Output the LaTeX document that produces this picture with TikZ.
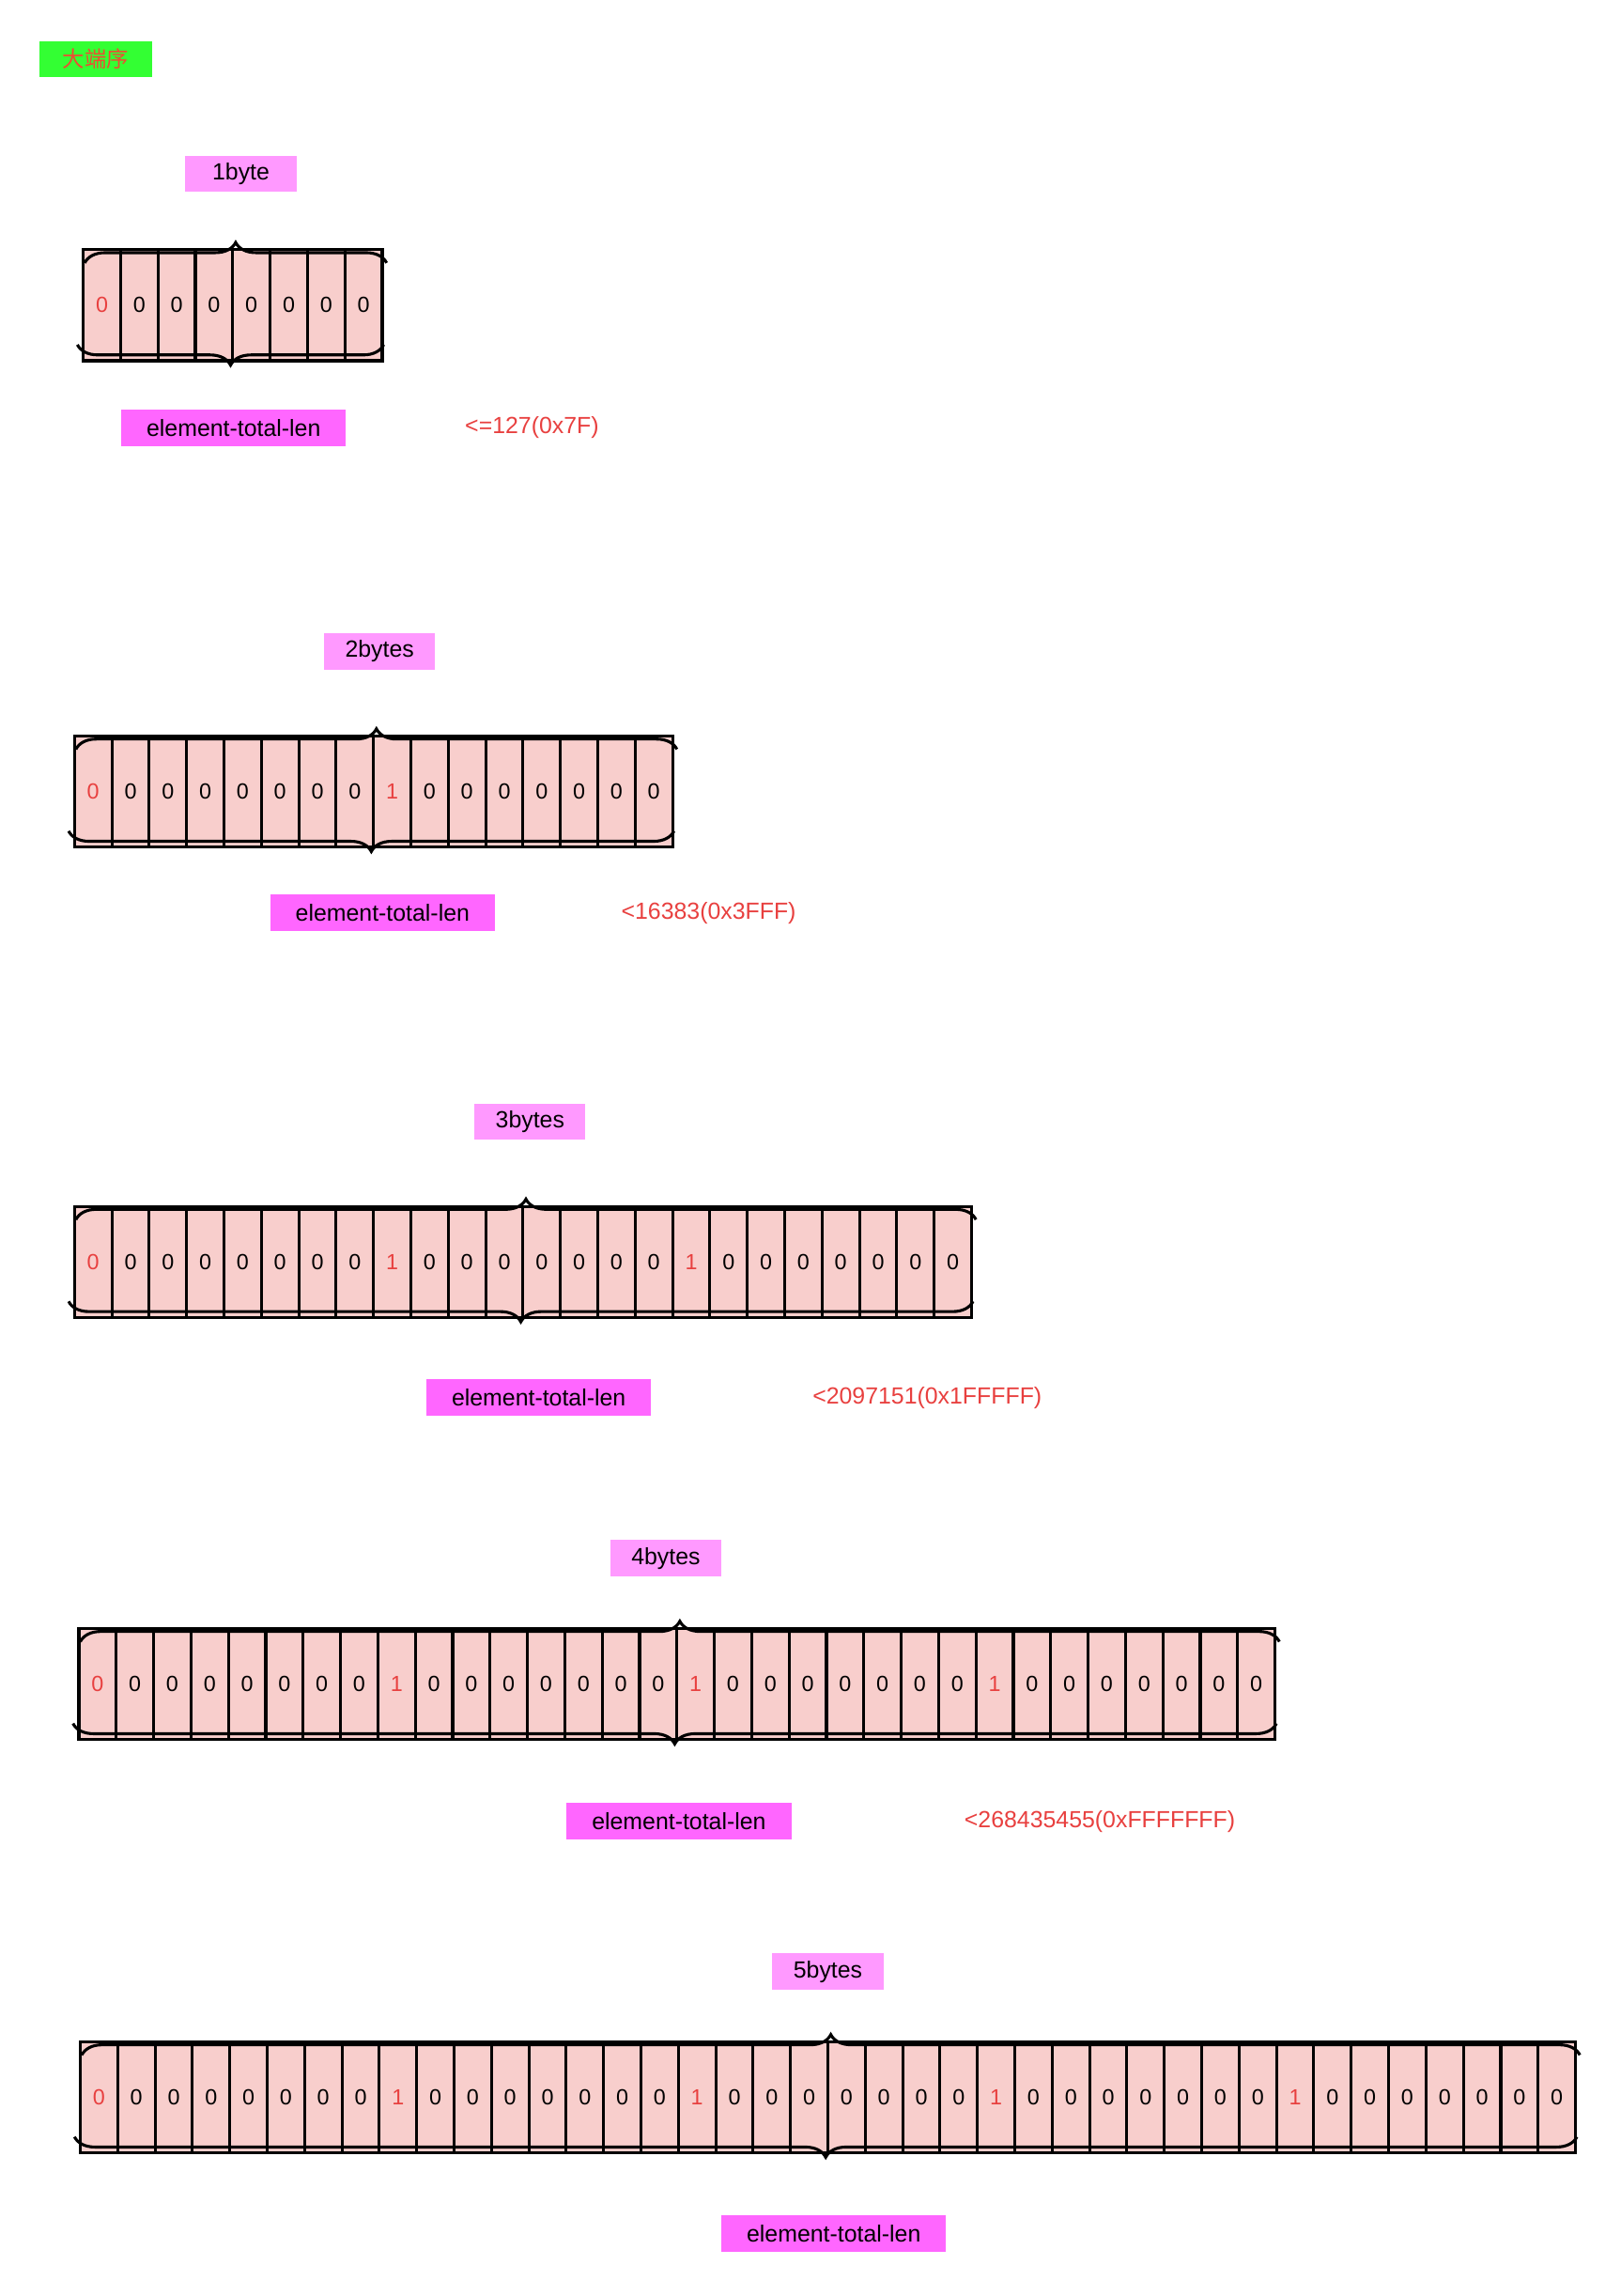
\documentclass[tikz,border=0pt]{standalone}
\usepackage{fontspec}
\setmainfont{Liberation Sans}
\newfontfamily\cjk{Noto Sans CJK SC}
\usetikzlibrary{decorations.pathreplacing}
\definecolor{cellf}{HTML}{F8CECC}
\definecolor{lab}{HTML}{FF99FF}
\definecolor{lab2}{HTML}{FF66FF}
\definecolor{redt}{HTML}{E8403F}
\definecolor{grn}{HTML}{33FF33}
\tikzset{
 cell/.style={draw=black,line width=2pt,fill=cellf,minimum width=25.6pt,minimum height=76pt,inner sep=0pt,anchor=north west,font=\fontsize{15}{15}\selectfont},
 bytelab/.style={fill=lab,minimum width=76pt,minimum height=25pt,inner sep=0pt,font=\fontsize{16}{16}\selectfont},
 lenlab/.style={fill=lab2,minimum width=154pt,minimum height=25pt,inner sep=0pt,font=\fontsize{16}{16}\selectfont},
 rng/.style={text=redt,font=\fontsize{16}{16}\selectfont},
 br/.style={decorate,decoration={brace,amplitude=14pt},line width=2pt},
}
\begin{document}
\begin{tikzpicture}[x=1pt,y=-1pt]
\useasboundingbox (0,0) rectangle (1110,1572);
\node[fill=grn,minimum width=77pt,minimum height=25pt,inner sep=0pt,text=redt!80!orange,font=\cjk\fontsize{15}{15}\selectfont] (title) at (65.5,40.5) {大端序};
% rows: name/left/top/ncells
\foreach \r/\L/\T/\n/\bl/\bx/\tby/\bby/\lx/\ly/\rx/\rt in {
 1/56/170/8/1byte/165/119/258/160/299/315/{<=127(0x7F)},
 2/50/503/16/2bytes/260/446/590/262/632/422/{<16383(0x3FFF)},
 3/50/825/24/3bytes/363/768/922/369/965/553/{<2097151(0x1FFFFF)},
 4/53/1114/32/4bytes/456/1067/1212/465/1251/657/{<268435455(0xFFFFFFF)},
 5/54/1397/40/5bytes/567/1350/1494/571/1529/0/{}}{
  \pgfmathtruncatemacro{\last}{\n-1}
  \foreach \i in {0,...,\last}{
    \pgfmathtruncatemacro{\isone}{(mod(\i,8)==0 && \i>0)?1:0}
    \ifnum\i=0
      \node[cell,text=redt] (c\r-\i) at ({\L+25.6*\i},\T) {0};
    \else\ifnum\isone=1
      \node[cell,text=redt] (c\r-\i) at ({\L+25.6*\i},\T) {1};
    \else
      \node[cell] (c\r-\i) at ({\L+25.6*\i},\T) {0};
    \fi\fi
  }
  \node[bytelab] (b\r) at (\bx,\tby) {\bl};
  \draw[br] ([xshift=2pt,yshift=-10pt]c\r-0.north west) -- ([xshift=2pt,yshift=-10pt]c\r-\last.north east);
  \draw[br] ([yshift=12pt]c\r-\last.south east) -- ([xshift=-3pt,yshift=12pt]c\r-0.south west);
  \node[lenlab] (l\r) at (\lx,{\bby+35}) {element-total-len};
  \node[rng,anchor=west] (v\r) at (\rx,{\bby+35}) {\rt};
}
\end{tikzpicture}
\end{document}
